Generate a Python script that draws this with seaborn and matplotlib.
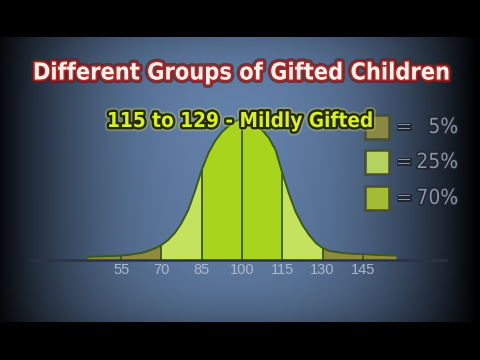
import numpy as np
import matplotlib
matplotlib.use("Agg")
import matplotlib.pyplot as plt
import matplotlib.patheffects as pe
from matplotlib.patches import Rectangle
import seaborn as sns
import pandas as pd
import logging
logging.getLogger("matplotlib.font_manager").setLevel(logging.ERROR)

# ---------------- data ----------------
iq = [42.5, 45, 47.5, 50, 52.5, 55, 57.5, 60, 62.5, 65, 67.5, 70, 72.5, 75, 77.5,
      80, 82.5, 85, 87.5, 90, 92.5, 95, 97.5, 100, 102.5, 105, 107.5, 110, 112.5,
      115, 117.5, 120, 122.5, 125, 127.5, 130, 132.5, 135, 137.5, 140, 142.5, 145,
      147.5, 150, 152.5, 155, 157.5]
height = [3, 3.5, 3.5, 4, 4, 4.5, 5, 6, 7, 9, 11.5, 15, 20, 27, 37,
          50, 69, 90, 107, 119, 128, 134, 139, 141, 139, 135, 130, 122, 110,
          87, 66, 48, 35, 25, 17, 12, 9, 8, 7, 6.5, 6, 6,
          5.5, 5, 5, 4.5, 4.5]
tick_values = [55, 70, 85, 100, 115, 130, 145]
tick_labels = ["55", "70", "85", "100", "115", "130", "145"]
title = "Different Groups of Gifted Children"
subtitle = "115 to 129 - Mildly Gifted"
legend_labels = ["5%", "25%", "70%"]

# colours
c_center = "#a8d41e"
c_mid = "#c4e25e"
c_tail = "#8e8a3e"
c_line = "#3a5a1c"
legend_colors = ["#8a8842", "#b6d25e", "#a2bc34"]

sns.set_theme(style="white")
plt.rcParams["font.family"] = ["DejaVu Sans"]
COND = ["DejaVu Sans Condensed", "DejaVu Sans"]
SANS = ["Liberation Sans", "DejaVu Sans"]

W, H = 480, 360
fig = plt.figure(figsize=(4.8, 3.6), dpi=100)
fig.patch.set_facecolor("black")

# ---------------- background (vignette) ----------------
bg = fig.add_axes([0, 0, 1, 1])
bg.set_axis_off()
yy, xx = np.mgrid[0:H, 0:W].astype(float)
base = np.array([0.37, 0.48, 0.63])
fx = np.clip(1 - (np.abs(xx - 234) / 242) ** 2.4, 0, 1)
fy = np.clip(1 - (np.abs(yy - 175) / 190) ** 5, 0, 1)
glow = 1 + 0.05 * np.exp(-(((xx - 240) / 170) ** 2 + ((yy - 100) / 100) ** 2))
fac = (fx * fy * glow)[..., None]
img = np.clip(base[None, None, :] * fac, 0, 1)
img[:37] = 0
img[322:] = 0
bg.imshow(img, extent=(0, W, H, 0), aspect="auto", interpolation="bilinear")
bg.set_xlim(0, W)
bg.set_ylim(H, 0)

# ---------------- main chart ----------------
ax = fig.add_axes([0, 0, 1, 1])
ax.set_facecolor("none")
px_per_unit = 40.3 / 15.0
x0 = 100 - 242 / px_per_unit
x1 = 100 + 238 / px_per_unit
ax.set_xlim(x0, x1)
ax.set_ylim(-100, 260)

df = pd.DataFrame({"iq": iq, "h": height})
x = df["iq"].to_numpy()
h = df["h"].to_numpy()
center = (x >= 85) & (x <= 115)
mid = ((x >= 70) & (x <= 85)) | ((x >= 115) & (x <= 130))
tail = (x <= 70) | (x >= 130)
ax.fill_between(x, 0, h, where=tail, color=c_tail, lw=0, zorder=2)
ax.fill_between(x, 0, h, where=mid, color=c_mid, lw=0, zorder=3)
ax.fill_between(x, 0, h, where=center, color=c_center, lw=0, zorder=4)

tick_h = [h[list(x).index(t)] for t in tick_values]
ax.vlines(tick_values, 0, tick_h, color=c_line, lw=1.3, zorder=5)

sns.lineplot(data=df, x="iq", y="h", ax=ax, color=c_line, lw=1.4, zorder=6,
             sort=False)
ax.set_xlabel("")
ax.set_ylabel("")
ax.set_axis_off()

ax.hlines(0, 100 - 212 / px_per_unit, 100 + 205 / px_per_unit, color="#2c3444",
          lw=1.8, zorder=7)

for t, lab in zip(tick_values, tick_labels):
    ax.text(t, -10, lab, ha="center", va="center", fontsize=10.5,
            family=SANS, color="#aab8cc", zorder=8)

# ---------------- overlay texts ----------------
ov = fig.add_axes([0, 0, 1, 1])
ov.set_facecolor("none")
ov.set_axis_off()
ov.set_xlim(0, W)
ov.set_ylim(H, 0)

renderer = fig.canvas.get_renderer()


def fit(t, target_w):
    for _ in range(4):
        bb = t.get_window_extent(renderer=renderer)
        t.set_fontsize(t.get_fontsize() * target_w / bb.width)


tt = ov.text(241, 73, title, ha="center", va="center", fontsize=17,
             fontweight="bold", family=COND, fontstretch="condensed",
             color="#fcf0ea",
             path_effects=[pe.Stroke(linewidth=5, foreground="#6a1a1a", alpha=0.7),
                           pe.Stroke(linewidth=2.2, foreground="#a82828"),
                           pe.Normal()], zorder=10)
fit(tt, 417)

st = ov.text(240, 121, subtitle, ha="center", va="center", fontsize=15,
             fontweight="bold", family=COND, fontstretch="condensed",
             color="#d6f02c",
             path_effects=[pe.Stroke(linewidth=6, foreground="#c8d84a", alpha=0.35),
                           pe.Stroke(linewidth=3.4, foreground="#262812"),
                           pe.Normal()], zorder=10)
fit(st, 266)

sq_y = [115, 150, 186]
for yv, col, lab in zip(sq_y, legend_colors, legend_labels):
    ov.add_patch(Rectangle((365, yv), 24, 24, facecolor=col, edgecolor="#4a4e36",
                           lw=1.8, zorder=9))
    ov.text(396, yv + 12, "=", ha="left", va="center", fontsize=15,
            family=COND, fontstretch="condensed", color="#8a94a2",
            path_effects=[pe.Stroke(linewidth=2, foreground="#1e2430"), pe.Normal()],
            zorder=10)
    ov.text(458, yv + 12, lab, ha="right", va="center", fontsize=15,
            family=COND, fontstretch="condensed", color="#8a94a2",
            path_effects=[pe.Stroke(linewidth=2, foreground="#1e2430"), pe.Normal()],
            zorder=10)

fig.savefig("out.png", dpi=100, facecolor="black")
